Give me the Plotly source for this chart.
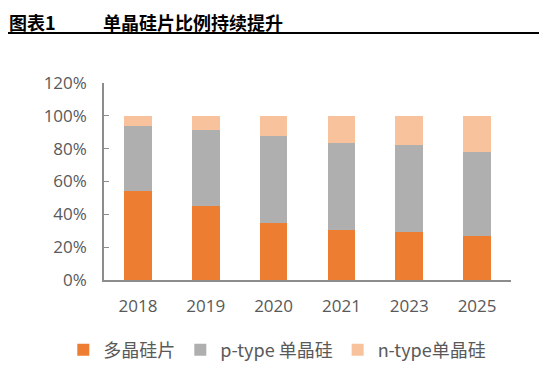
import plotly.graph_objects as go

years = ["2018", "2019", "2020", "2021", "2023", "2025"]
poly = [0.545, 0.45, 0.35, 0.305, 0.29, 0.27]
p_mono = [0.395, 0.465, 0.53, 0.53, 0.53, 0.51]
n_mono = [0.06, 0.085, 0.12, 0.165, 0.18, 0.22]
names = ["多晶硅片", "p-type 单晶硅", "n-type单晶硅"]
colors = ["#ED7D31", "#AFAFAF", "#F8C39C"]

CJK = "Noto Sans CJK SC"
TXT = "#595959"

fig = go.Figure()
for vals, nm, c in zip([poly, p_mono, n_mono], names, colors):
    fig.add_trace(go.Bar(x=years, y=vals, name=nm, marker=dict(color=c, line=dict(width=0)),
                         width=0.41))

fig.update_layout(
    barmode="stack",
    width=539, height=365,
    paper_bgcolor="white", plot_bgcolor="white",
    margin=dict(l=96, r=36, t=75, b=93, autoexpand=False),
    font=dict(family="Open Sans, " + CJK, color=TXT, size=15),
    showlegend=True,
    legend=dict(orientation="h", x=-0.1, xanchor="left", y=-0.355, yanchor="middle",
                font=dict(family=CJK, size=18, color=TXT), traceorder="normal",
                tracegroupgap=0, itemwidth=30, bgcolor="rgba(0,0,0,0)"),
    xaxis=dict(showline=True, linecolor="#8C8C8C", linewidth=1.5, ticks="",
               tickfont=dict(size=17, color=TXT), showgrid=False, ticklabelstandoff=10),
    yaxis=dict(range=[0, 1.2], dtick=0.2, tickformat=".0%", showgrid=False, zeroline=False,
               showline=True, linecolor="#8C8C8C", linewidth=1.5, ticks="inside",
               ticklen=5, tickcolor="#8C8C8C", tickfont=dict(size=17, color=TXT),
               ticklabelstandoff=12),
    annotations=[
        dict(text="<b>图表1</b>", xref="paper", yref="paper", x=-0.235, y=1.383,
             xanchor="left", yanchor="top", showarrow=False, borderpad=0,
             font=dict(family=CJK, size=18, color="black")),
        dict(text="<b>单晶硅片比例持续提升</b>", xref="paper", yref="paper", x=-0.005, y=1.383,
             xanchor="left", yanchor="top", showarrow=False, borderpad=0,
             font=dict(family=CJK, size=18, color="black")),
    ],
    shapes=[dict(type="line", xref="paper", yref="paper", x0=-0.24, x1=1.09, y0=1.254, y1=1.254,
                 line=dict(color="black", width=2))],
)

fig.write_html("out.html")
